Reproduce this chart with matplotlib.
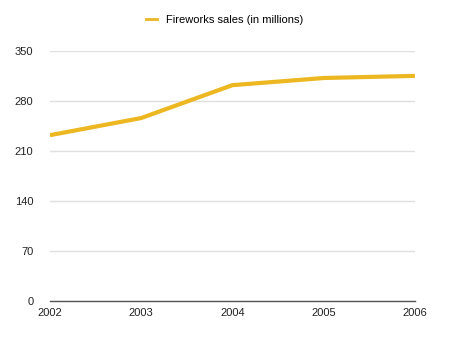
import matplotlib.pyplot as plt
from matplotlib.lines import Line2D

years = ["2002", "2003", "2004", "2005", "2006"]
sales = [232, 256, 302, 312, 315]

plt.rcParams["font.family"] = ["Liberation Sans", "DejaVu Sans"]

fig = plt.figure(figsize=(4.5, 3.39), dpi=100)
ax = fig.add_axes([0.111, 0.112, 0.811, 0.738])

ax.plot(range(len(years)), sales, color="#EDB721", lw=3.0,
        solid_capstyle="butt", zorder=3)

ax.set_xlim(0, len(years) - 1)
ax.set_ylim(0, 350)
ax.set_yticks([0, 70, 140, 210, 280, 350])
ax.set_xticks(range(len(years)))
ax.set_xticklabels(years)
ax.yaxis.grid(True, color="#e0e0e0", lw=1)
ax.set_axisbelow(True)

for s in ["top", "right", "left"]:
    ax.spines[s].set_visible(False)
ax.spines["bottom"].set_color("#555555")
ax.spines["bottom"].set_linewidth(1)
ax.tick_params(length=0, labelsize=8, colors="#222222")
ax.tick_params(axis="y", pad=12)
ax.tick_params(axis="x", pad=5)

handle = Line2D([], [], color="#EDB721", lw=2)
fig.legend([handle], ["Fireworks sales (in millions)"], loc="upper center",
           bbox_to_anchor=(0.5, 0.985), frameon=False,
           fontsize=8, handlelength=1.0, handletextpad=0.8)

fig.savefig("out.png", dpi=100)
